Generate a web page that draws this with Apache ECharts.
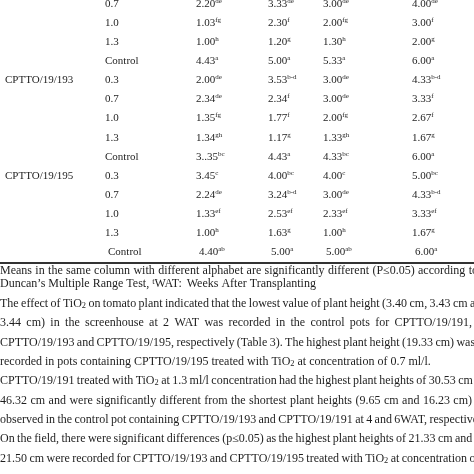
<!DOCTYPE html>
<html><head><meta charset="utf-8">
<script src="https://cdn.jsdelivr.net/npm/echarts@6/dist/echarts.min.js"></script>
<style>html,body{margin:0;padding:0;background:#fff}#c{width:474px;height:474px}</style>
</head><body><div id="c"></div>
<script>
var genotypes = ['', '', '', '', 'CPTTO/19/193', '', '', '', '', 'CPTTO/19/195', '', '', '', ''];
var treatments = ['0.7','1.0','1.3','Control','0.3','0.7','1.0','1.3','Control','0.3','0.7','1.0','1.3','Control'];
var col1 = [['2.20','de'],['1.03','fg'],['1.00','h'],['4.43','a'],['2.00','de'],['2.34','de'],['1.35','fg'],['1.34','gh'],['3..35','bc'],['3.45','c'],['2.24','de'],['1.33','ef'],['1.00','h'],['4.40','ab']];
var col2 = [['3.33','de'],['2.30','f'],['1.20','g'],['5.00','a'],['3.53','b-d'],['2.34','f'],['1.77','f'],['1.17','g'],['4.43','a'],['4.00','bc'],['3.24','b-d'],['2.53','ef'],['1.63','g'],['5.00','a']];
var col3 = [['3.00','de'],['2.00','fg'],['1.30','h'],['5.33','a'],['3.00','de'],['3.00','de'],['2.00','fg'],['1.33','gh'],['4.33','bc'],['4.00','c'],['3.00','de'],['2.33','ef'],['1.00','h'],['5.00','ab']];
var col4 = [['4.00','de'],['3.00','f'],['2.00','g'],['6.00','a'],['4.33','b-d'],['3.33','f'],['2.67','f'],['1.67','g'],['6.00','a'],['5.00','bc'],['4.33','b-d'],['3.33','ef'],['1.67','g'],['6.00','a']];
var footnote = ["Means in the same column with different alphabet are significantly different (P\u22640.05) according to", "Duncan\u2019s Multiple Range Test, {t}WAT: Weeks After Transplanting"];
var paragraph = [
 ["The effect of TiO{2} on tomato plant indicated that the lowest value of plant height (3.40 cm, 3.43 cm and", true],
 ["3.44 cm) in the screenhouse at 2 WAT was recorded in the control pots for CPTTO/19/191,", true],
 ["CPTTO/19/193 and CPTTO/19/195, respectively (Table 3). The highest plant height (19.33 cm) was", true],
 ["recorded in pots containing CPTTO/19/195 treated with TiO{2} at concentration of 0.7 ml/l.", false],
 ["CPTTO/19/191 treated with TiO{2} at 1.3 ml/l concentration had the highest plant heights of 30.53 cm and", true],
 ["46.32 cm and were significantly different from the shortest plant heights (9.65 cm and 16.23 cm)", true],
 ["observed in the control pot containing CPTTO/19/193 and CPTTO/19/191 at 4 and 6WAT, respectively.", true],
 ["On the field, there were significant differences (p\u22640.05) as the highest plant heights of 21.33 cm and", true],
 ["21.50 cm were recorded for CPTTO/19/193 and CPTTO/19/195 treated with TiO{2} at concentration of 1.3", true]
];
var FONT = '"Liberation Serif", "Times New Roman", serif';
var COLOR = '#1e1e1e';
var ctx = document.createElement('canvas').getContext('2d');
function meas(w, size){
  var plain = w.replace(/\{2\}|\{t\}/g,''); var sub = (w.match(/\{2\}|\{t\}/g)||[]).length;
  ctx.font=size+'px '+FONT; var a=ctx.measureText(plain).width;
  ctx.font=(size*0.7)+'px '+FONT; return a + sub*ctx.measureText('2').width; }
function richWord(w){ return w.replace(/\{2\}/g,'{s|2}').replace(/\{t\}/g,'{u|t}'); }
var els = [];
function txt(x,y,str,size,rich){ els.push({type:'text',x:x,y:y,style:{text:str,font:size+'px '+FONT,fill:COLOR,textVerticalAlign:'middle',rich:rich}}); }
var supRich = {s:{fontSize:7,fontFamily:FONT,fill:COLOR,verticalAlign:'top',padding:[0,0,6,0]}};
var rowY0 = 4, rowH = 19.1;
var cols = [[196,col1],[268,col2],[323,col3],[412,col4]];
for (var i=0;i<treatments.length;i++){
  var y = rowY0 + i*rowH;
  var sh = (i===treatments.length-1)?3:0;
  if (genotypes[i]) txt(5,y,genotypes[i],11);
  txt(105+sh,y,treatments[i],11);
  cols.forEach(function(c){ var v=c[1][i]; els.push({type:'text',x:c[0]+sh,y:y,style:{text:v[0]+'{s|'+v[1]+'}',font:'11px '+FONT,fill:COLOR,textVerticalAlign:'middle',rich:supRich}}); });
}
els.push({type:'rect',shape:{x:0,y:262,width:474,height:2},style:{fill:'#333'}});
function justify(line, y, size, just, width){
  var words = line.split(' ');
  var ws = words.map(function(w){return meas(w,size);});
  var tot = ws.reduce(function(a,b){return a+b;},0);
  ctx.font=size+'px '+FONT; var sp = ctx.measureText(' ').width;
  var gap = just ? Math.max(sp*0.8,(width - tot)/(words.length-1)) : sp;
  var x = 0;
  var rich = {s:{fontSize:size*0.7,fontFamily:FONT,fill:COLOR,verticalAlign:'bottom',padding:[4,0,0,0]},
              u:{fontSize:size*0.7,fontFamily:FONT,fill:COLOR,verticalAlign:'top',padding:[0,0,5,0]}};
  words.forEach(function(w,k){ txt(x,y,richWord(w),size,rich); x += ws[k]+gap; });
}
justify(footnote[0],271,12,true,478);
justify(footnote[1],284,12,false,474);
paragraph.forEach(function(p,k){ justify(p[0],304+k*19.3,12,p[1],k===8?478:472); });
var chart = echarts.init(document.getElementById('c'),null,{renderer:'canvas'});
chart.setOption({animation:false,graphic:{elements:els}});
</script></body></html>
